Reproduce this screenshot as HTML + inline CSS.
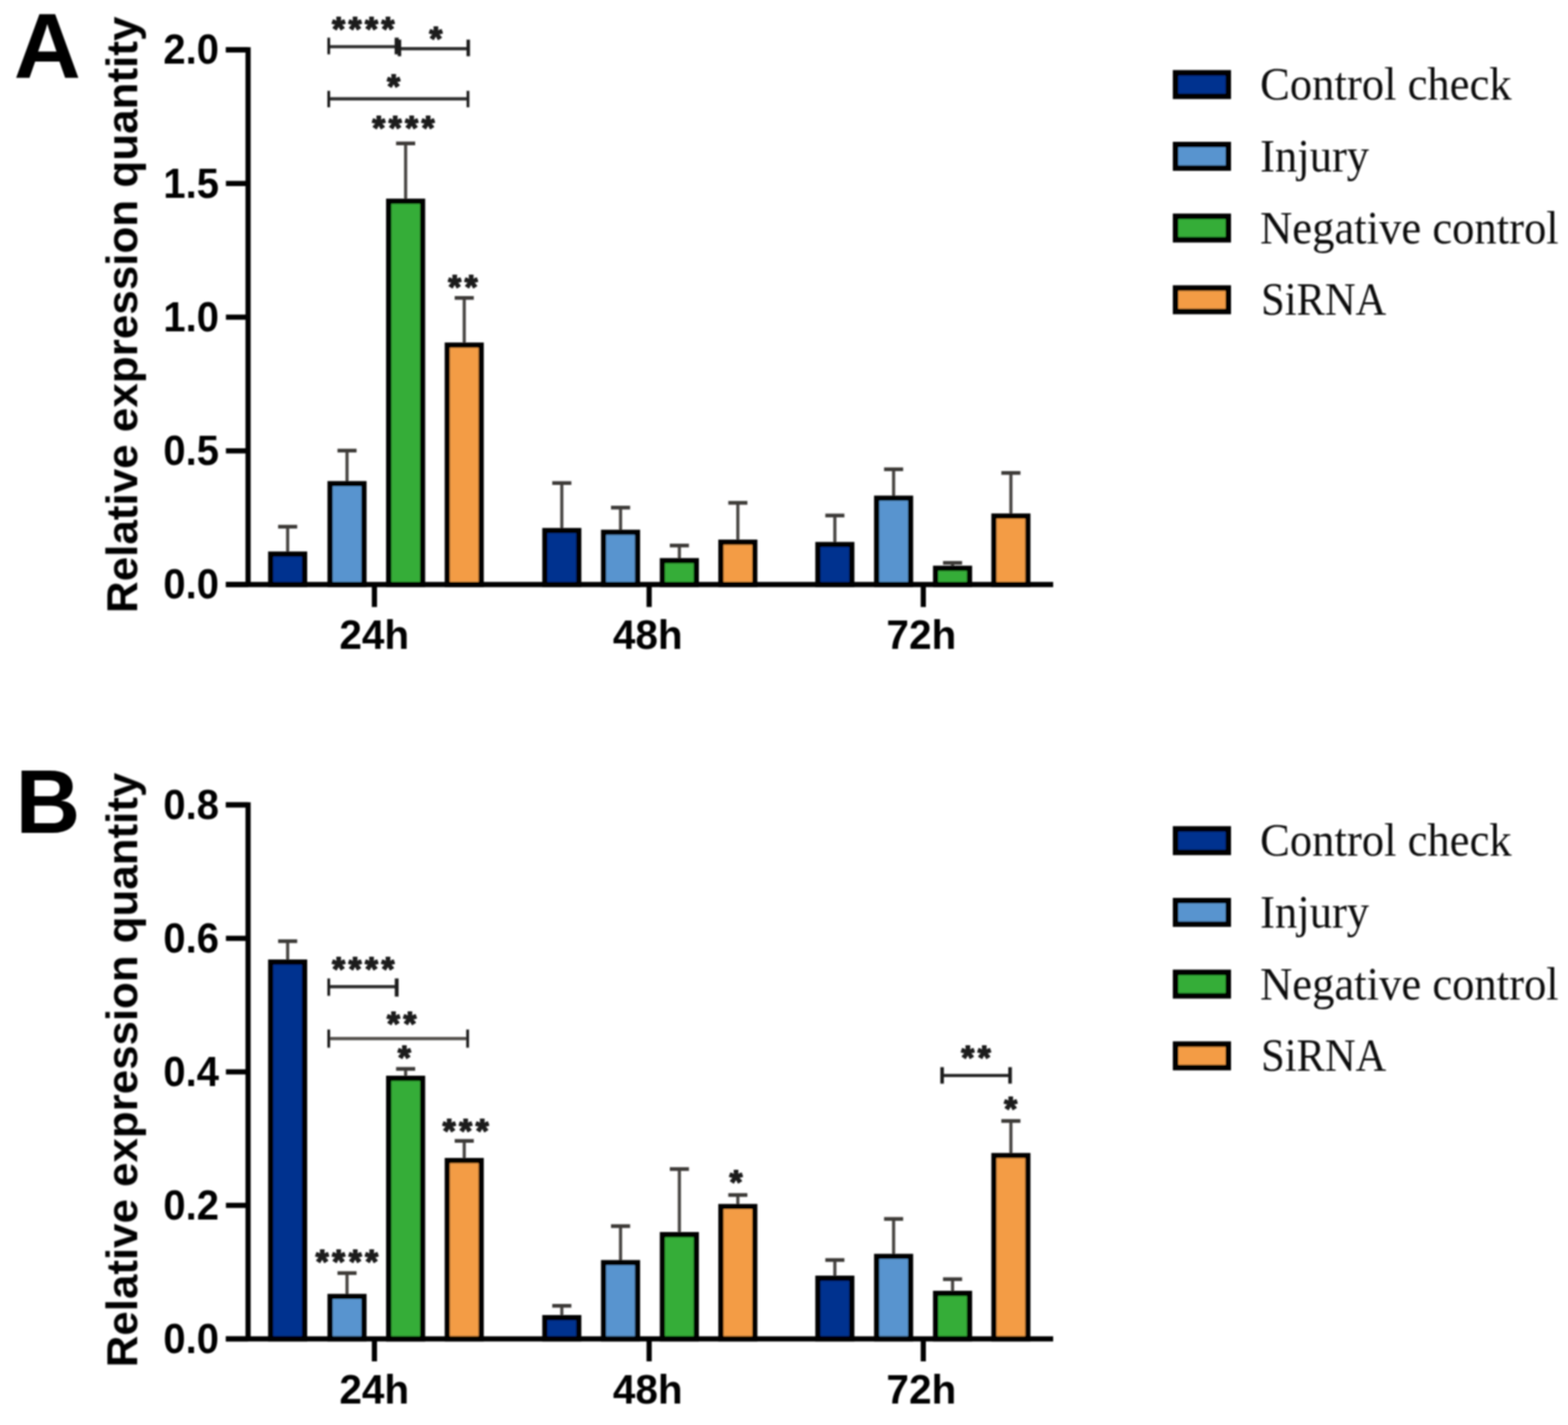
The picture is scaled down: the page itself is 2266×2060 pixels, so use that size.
<!DOCTYPE html>
<html><head><meta charset="utf-8"><title>Relative expression quantity</title>
<style>
html,body{margin:0;padding:0;background:#fff;}
body{width:2266px;height:2060px;overflow:hidden;}
svg{display:block;}
.lab{font-family:"Liberation Sans",Arial,sans-serif;font-weight:bold;fill:#000;}
.leg{font-family:"Liberation Serif","Times New Roman",serif;fill:#111;}
.st{font-family:"Liberation Sans",Arial,sans-serif;font-weight:bold;fill:#1e1e1e;}
</style></head><body>
<svg width="2266" height="2060" viewBox="0 0 2266 2060">
<defs><filter id="soft" x="0" y="0" width="100%" height="100%" filterUnits="userSpaceOnUse"><feGaussianBlur stdDeviation="1.0"/></filter></defs>
<rect width="2266" height="2060" fill="#fff"/>
<g filter="url(#soft)">

<g id="panelA">
<text class="lab" x="20" y="112.5" font-size="134">A</text>
<text class="lab" transform="translate(198.2,886.3) rotate(-90)" font-size="63.6">Relative expression quantity</text>
<line x1="326.5" y1="845.0" x2="358.5" y2="845.0" stroke="#000" stroke-width="7.5"/>
<text class="lab" transform="translate(316.5,865.3) scale(0.955,1)" font-size="60.7" text-anchor="end">0.0</text>
<line x1="326.5" y1="651.8" x2="358.5" y2="651.8" stroke="#000" stroke-width="7.5"/>
<text class="lab" transform="translate(316.5,672.0) scale(0.955,1)" font-size="60.7" text-anchor="end">0.5</text>
<line x1="326.5" y1="458.5" x2="358.5" y2="458.5" stroke="#000" stroke-width="7.5"/>
<text class="lab" transform="translate(316.5,478.8) scale(0.955,1)" font-size="60.7" text-anchor="end">1.0</text>
<line x1="326.5" y1="265.2" x2="358.5" y2="265.2" stroke="#000" stroke-width="7.5"/>
<text class="lab" transform="translate(316.5,285.6) scale(0.955,1)" font-size="60.7" text-anchor="end">1.5</text>
<line x1="326.5" y1="72.0" x2="358.5" y2="72.0" stroke="#000" stroke-width="7.5"/>
<text class="lab" transform="translate(316.5,92.3) scale(0.955,1)" font-size="60.7" text-anchor="end">2.0</text>
<line x1="415.7" y1="761.4" x2="415.7" y2="801.0" stroke="#4a4744" stroke-width="4.6"/>
<line x1="401.9" y1="761.4" x2="429.5" y2="761.4" stroke="#3d3a37" stroke-width="5.4"/>
<rect x="391.2" y="801.0" width="49" height="44.0" fill="#06328f" stroke="#000" stroke-width="7.5"/>
<line x1="501.5" y1="651.4" x2="501.5" y2="699.2" stroke="#4a4744" stroke-width="4.6"/>
<line x1="487.7" y1="651.4" x2="515.3" y2="651.4" stroke="#3d3a37" stroke-width="5.4"/>
<rect x="477.0" y="699.2" width="49" height="145.8" fill="#5994cf" stroke="#000" stroke-width="7.5"/>
<line x1="586.2" y1="207.3" x2="586.2" y2="290.9" stroke="#4a4744" stroke-width="4.6"/>
<line x1="572.4" y1="207.3" x2="600.0" y2="207.3" stroke="#3d3a37" stroke-width="5.4"/>
<rect x="561.7" y="290.9" width="49" height="554.0" fill="#35ad39" stroke="#000" stroke-width="7.5"/>
<line x1="670.9" y1="430.7" x2="670.9" y2="498.9" stroke="#4a4744" stroke-width="4.6"/>
<line x1="657.1" y1="430.7" x2="684.7" y2="430.7" stroke="#3d3a37" stroke-width="5.4"/>
<rect x="646.4" y="498.9" width="49" height="346.1" fill="#f39c45" stroke="#000" stroke-width="7.5"/>
<line x1="811.9" y1="698.3" x2="811.9" y2="767.0" stroke="#4a4744" stroke-width="4.6"/>
<line x1="798.1" y1="698.3" x2="825.7" y2="698.3" stroke="#3d3a37" stroke-width="5.4"/>
<rect x="787.4" y="767.0" width="49" height="78.0" fill="#06328f" stroke="#000" stroke-width="7.5"/>
<line x1="896.8" y1="733.8" x2="896.8" y2="769.5" stroke="#4a4744" stroke-width="4.6"/>
<line x1="883.0" y1="733.8" x2="910.6" y2="733.8" stroke="#3d3a37" stroke-width="5.4"/>
<rect x="872.3" y="769.5" width="49" height="75.5" fill="#5994cf" stroke="#000" stroke-width="7.5"/>
<line x1="981.8" y1="788.6" x2="981.8" y2="810.5" stroke="#4a4744" stroke-width="4.6"/>
<line x1="968.0" y1="788.6" x2="995.6" y2="788.6" stroke="#3d3a37" stroke-width="5.4"/>
<rect x="957.3" y="810.5" width="49" height="34.5" fill="#35ad39" stroke="#000" stroke-width="7.5"/>
<line x1="1066.3" y1="726.9" x2="1066.3" y2="783.8" stroke="#4a4744" stroke-width="4.6"/>
<line x1="1052.5" y1="726.9" x2="1080.1" y2="726.9" stroke="#3d3a37" stroke-width="5.4"/>
<rect x="1041.8" y="783.8" width="49" height="61.2" fill="#f39c45" stroke="#000" stroke-width="7.5"/>
<line x1="1206.5" y1="745.2" x2="1206.5" y2="787.2" stroke="#4a4744" stroke-width="4.6"/>
<line x1="1192.7" y1="745.2" x2="1220.3" y2="745.2" stroke="#3d3a37" stroke-width="5.4"/>
<rect x="1182.0" y="787.2" width="49" height="57.8" fill="#06328f" stroke="#000" stroke-width="7.5"/>
<line x1="1291.4" y1="678.4" x2="1291.4" y2="720.2" stroke="#4a4744" stroke-width="4.6"/>
<line x1="1277.6" y1="678.4" x2="1305.2" y2="678.4" stroke="#3d3a37" stroke-width="5.4"/>
<rect x="1266.9" y="720.2" width="49" height="124.8" fill="#5994cf" stroke="#000" stroke-width="7.5"/>
<line x1="1376.6" y1="813.7" x2="1376.6" y2="821.5" stroke="#4a4744" stroke-width="4.6"/>
<line x1="1362.8" y1="813.7" x2="1390.4" y2="813.7" stroke="#3d3a37" stroke-width="5.4"/>
<rect x="1352.1" y="821.5" width="49" height="23.5" fill="#35ad39" stroke="#000" stroke-width="7.5"/>
<line x1="1460.9" y1="683.7" x2="1460.9" y2="746.0" stroke="#4a4744" stroke-width="4.6"/>
<line x1="1447.1" y1="683.7" x2="1474.7" y2="683.7" stroke="#3d3a37" stroke-width="5.4"/>
<rect x="1436.4" y="746.0" width="49" height="99.0" fill="#f39c45" stroke="#000" stroke-width="7.5"/>
<path d="M326.5,72.0 H358.5 V845.0" fill="none" stroke="#000" stroke-width="7.5" stroke-linejoin="miter"/>
<line x1="326.5" y1="845.0" x2="1522" y2="845.0" stroke="#000" stroke-width="7.5"/>
<line x1="541.1" y1="845.0" x2="541.1" y2="877.5" stroke="#000" stroke-width="7.5"/>
<text class="lab" x="540.8" y="938.1" font-size="58.5" text-anchor="middle">24h</text>
<line x1="938.1" y1="845.0" x2="938.1" y2="877.5" stroke="#000" stroke-width="7.5"/>
<text class="lab" x="936.1" y="938.1" font-size="58.5" text-anchor="middle">48h</text>
<line x1="1334.3" y1="845.0" x2="1334.3" y2="877.5" stroke="#000" stroke-width="7.5"/>
<text class="lab" x="1331.5" y="938.1" font-size="58.5" text-anchor="middle">72h</text>
<rect x="1698.9" y="105.3" width="76.1" height="33.9" fill="#06328f" stroke="#000" stroke-width="8"/>
<text class="leg" transform="translate(1821,144.3) scale(1,1.035)" font-size="64.5">Control check</text>
<rect x="1698.9" y="209.0" width="76.1" height="33.9" fill="#5994cf" stroke="#000" stroke-width="8"/>
<text class="leg" transform="translate(1821,248.0) scale(1,1.035)" font-size="64.5">Injury</text>
<rect x="1698.9" y="312.7" width="76.1" height="33.9" fill="#35ad39" stroke="#000" stroke-width="8"/>
<text class="leg" transform="translate(1821,351.7) scale(1,1.035)" font-size="64.5">Negative control</text>
<rect x="1698.9" y="416.4" width="76.1" height="33.9" fill="#f39c45" stroke="#000" stroke-width="8"/>
<text class="leg" transform="translate(1822.5,455.4) scale(0.952,1.035)" font-size="64.5">SiRNA</text>
</g>
<g id="panelB">
<text class="lab" x="22.5" y="1204.0" font-size="129.5">B</text>
<text class="lab" transform="translate(198.2,1976.6) rotate(-90)" font-size="63.4">Relative expression quantity</text>
<line x1="326.5" y1="1935.5" x2="358.5" y2="1935.5" stroke="#000" stroke-width="7.5"/>
<text class="lab" transform="translate(316.5,1955.8) scale(0.955,1)" font-size="60.7" text-anchor="end">0.0</text>
<line x1="326.5" y1="1742.5" x2="358.5" y2="1742.5" stroke="#000" stroke-width="7.5"/>
<text class="lab" transform="translate(316.5,1762.8) scale(0.955,1)" font-size="60.7" text-anchor="end">0.2</text>
<line x1="326.5" y1="1549.5" x2="358.5" y2="1549.5" stroke="#000" stroke-width="7.5"/>
<text class="lab" transform="translate(316.5,1569.8) scale(0.955,1)" font-size="60.7" text-anchor="end">0.4</text>
<line x1="326.5" y1="1356.5" x2="358.5" y2="1356.5" stroke="#000" stroke-width="7.5"/>
<text class="lab" transform="translate(316.5,1376.8) scale(0.955,1)" font-size="60.7" text-anchor="end">0.6</text>
<line x1="326.5" y1="1163.5" x2="358.5" y2="1163.5" stroke="#000" stroke-width="7.5"/>
<text class="lab" transform="translate(316.5,1183.8) scale(0.955,1)" font-size="60.7" text-anchor="end">0.8</text>
<line x1="415.7" y1="1360.6" x2="415.7" y2="1390.8" stroke="#4a4744" stroke-width="4.6"/>
<line x1="401.9" y1="1360.6" x2="429.5" y2="1360.6" stroke="#3d3a37" stroke-width="5.4"/>
<rect x="391.2" y="1390.8" width="49" height="544.7" fill="#06328f" stroke="#000" stroke-width="7.5"/>
<line x1="501.5" y1="1840.4" x2="501.5" y2="1874.2" stroke="#4a4744" stroke-width="4.6"/>
<line x1="487.7" y1="1840.4" x2="515.3" y2="1840.4" stroke="#3d3a37" stroke-width="5.4"/>
<rect x="477.0" y="1874.2" width="49" height="61.3" fill="#5994cf" stroke="#000" stroke-width="7.5"/>
<line x1="586.2" y1="1545.2" x2="586.2" y2="1558.8" stroke="#4a4744" stroke-width="4.6"/>
<line x1="572.4" y1="1545.2" x2="600.0" y2="1545.2" stroke="#3d3a37" stroke-width="5.4"/>
<rect x="561.7" y="1558.8" width="49" height="376.8" fill="#35ad39" stroke="#000" stroke-width="7.5"/>
<line x1="670.9" y1="1649.3" x2="670.9" y2="1677.7" stroke="#4a4744" stroke-width="4.6"/>
<line x1="657.1" y1="1649.3" x2="684.7" y2="1649.3" stroke="#3d3a37" stroke-width="5.4"/>
<rect x="646.4" y="1677.7" width="49" height="257.8" fill="#f39c45" stroke="#000" stroke-width="7.5"/>
<line x1="811.9" y1="1887.7" x2="811.9" y2="1904.8" stroke="#4a4744" stroke-width="4.6"/>
<line x1="798.1" y1="1887.7" x2="825.7" y2="1887.7" stroke="#3d3a37" stroke-width="5.4"/>
<rect x="787.4" y="1904.8" width="49" height="30.7" fill="#06328f" stroke="#000" stroke-width="7.5"/>
<line x1="896.8" y1="1772.5" x2="896.8" y2="1825.3" stroke="#4a4744" stroke-width="4.6"/>
<line x1="883.0" y1="1772.5" x2="910.6" y2="1772.5" stroke="#3d3a37" stroke-width="5.4"/>
<rect x="872.3" y="1825.3" width="49" height="110.2" fill="#5994cf" stroke="#000" stroke-width="7.5"/>
<line x1="981.8" y1="1690.0" x2="981.8" y2="1784.8" stroke="#4a4744" stroke-width="4.6"/>
<line x1="968.0" y1="1690.0" x2="995.6" y2="1690.0" stroke="#3d3a37" stroke-width="5.4"/>
<rect x="957.3" y="1784.8" width="49" height="150.7" fill="#35ad39" stroke="#000" stroke-width="7.5"/>
<line x1="1066.3" y1="1727.5" x2="1066.3" y2="1744.2" stroke="#4a4744" stroke-width="4.6"/>
<line x1="1052.5" y1="1727.5" x2="1080.1" y2="1727.5" stroke="#3d3a37" stroke-width="5.4"/>
<rect x="1041.8" y="1744.2" width="49" height="191.3" fill="#f39c45" stroke="#000" stroke-width="7.5"/>
<line x1="1206.5" y1="1821.5" x2="1206.5" y2="1847.8" stroke="#4a4744" stroke-width="4.6"/>
<line x1="1192.7" y1="1821.5" x2="1220.3" y2="1821.5" stroke="#3d3a37" stroke-width="5.4"/>
<rect x="1182.0" y="1847.8" width="49" height="87.7" fill="#06328f" stroke="#000" stroke-width="7.5"/>
<line x1="1291.4" y1="1762.1" x2="1291.4" y2="1816.3" stroke="#4a4744" stroke-width="4.6"/>
<line x1="1277.6" y1="1762.1" x2="1305.2" y2="1762.1" stroke="#3d3a37" stroke-width="5.4"/>
<rect x="1266.9" y="1816.3" width="49" height="119.2" fill="#5994cf" stroke="#000" stroke-width="7.5"/>
<line x1="1376.6" y1="1849.2" x2="1376.6" y2="1869.7" stroke="#4a4744" stroke-width="4.6"/>
<line x1="1362.8" y1="1849.2" x2="1390.4" y2="1849.2" stroke="#3d3a37" stroke-width="5.4"/>
<rect x="1352.1" y="1869.7" width="49" height="65.8" fill="#35ad39" stroke="#000" stroke-width="7.5"/>
<line x1="1460.9" y1="1620.5" x2="1460.9" y2="1670.5" stroke="#4a4744" stroke-width="4.6"/>
<line x1="1447.1" y1="1620.5" x2="1474.7" y2="1620.5" stroke="#3d3a37" stroke-width="5.4"/>
<rect x="1436.4" y="1670.5" width="49" height="265.0" fill="#f39c45" stroke="#000" stroke-width="7.5"/>
<path d="M326.5,1163.5 H358.5 V1935.5" fill="none" stroke="#000" stroke-width="7.5" stroke-linejoin="miter"/>
<line x1="326.5" y1="1935.5" x2="1522" y2="1935.5" stroke="#000" stroke-width="7.5"/>
<line x1="541.1" y1="1935.5" x2="541.1" y2="1968.0" stroke="#000" stroke-width="7.5"/>
<text class="lab" x="540.8" y="2028.6" font-size="58.5" text-anchor="middle">24h</text>
<line x1="938.1" y1="1935.5" x2="938.1" y2="1968.0" stroke="#000" stroke-width="7.5"/>
<text class="lab" x="936.1" y="2028.6" font-size="58.5" text-anchor="middle">48h</text>
<line x1="1334.3" y1="1935.5" x2="1334.3" y2="1968.0" stroke="#000" stroke-width="7.5"/>
<text class="lab" x="1331.5" y="2028.6" font-size="58.5" text-anchor="middle">72h</text>
<rect x="1698.9" y="1198.3" width="76.1" height="33.9" fill="#06328f" stroke="#000" stroke-width="8"/>
<text class="leg" transform="translate(1821,1237.3) scale(1,1.035)" font-size="64.5">Control check</text>
<rect x="1698.9" y="1302.0" width="76.1" height="33.9" fill="#5994cf" stroke="#000" stroke-width="8"/>
<text class="leg" transform="translate(1821,1341.0) scale(1,1.035)" font-size="64.5">Injury</text>
<rect x="1698.9" y="1405.7" width="76.1" height="33.9" fill="#35ad39" stroke="#000" stroke-width="8"/>
<text class="leg" transform="translate(1821,1444.7) scale(1,1.035)" font-size="64.5">Negative control</text>
<rect x="1698.9" y="1509.4" width="76.1" height="33.9" fill="#f39c45" stroke="#000" stroke-width="8"/>
<text class="leg" transform="translate(1822.5,1548.4) scale(0.952,1.035)" font-size="64.5">SiRNA</text>
</g>
<g id="annA">
<text class="st" x="527.5" y="58.4" font-size="48" text-anchor="middle" letter-spacing="5.1" stroke="#1e1e1e" stroke-width="2.0" stroke-linejoin="round">****</text>
<text class="st" x="632.5" y="72.1" font-size="48" text-anchor="middle" letter-spacing="5.1" stroke="#1e1e1e" stroke-width="2.0" stroke-linejoin="round">*</text>
<line x1="475.1" y1="67.5" x2="573.3" y2="67.5" stroke="#2e2e2e" stroke-width="4.6"/><line x1="475.1" y1="54.5" x2="475.1" y2="78.5" stroke="#1a1a1a" stroke-width="4.0"/><line x1="573.3" y1="54.5" x2="573.3" y2="78.5" stroke="#1a1a1a" stroke-width="6"/>
<line x1="577.3" y1="70.4" x2="676.7" y2="70.4" stroke="#2e2e2e" stroke-width="4.6"/><line x1="577.3" y1="57.3" x2="577.3" y2="81.3" stroke="#1a1a1a" stroke-width="5"/><line x1="676.7" y1="57.3" x2="676.7" y2="81.3" stroke="#1a1a1a" stroke-width="5"/>
<text class="st" x="571.5" y="140.5" font-size="48" text-anchor="middle" letter-spacing="5.1" stroke="#1e1e1e" stroke-width="2.0" stroke-linejoin="round">*</text>
<line x1="475.1" y1="142.9" x2="676.3" y2="142.9" stroke="#2e2e2e" stroke-width="4.6"/><line x1="475.1" y1="131.3" x2="475.1" y2="155.1" stroke="#1a1a1a" stroke-width="4.0"/><line x1="676.3" y1="131.3" x2="676.3" y2="155.1" stroke="#1a1a1a" stroke-width="4.0"/>
<text class="st" x="585.5" y="200.6" font-size="48" text-anchor="middle" letter-spacing="5.1" stroke="#1e1e1e" stroke-width="2.0" stroke-linejoin="round">****</text>
<text class="st" x="671.5" y="431.1" font-size="48" text-anchor="middle" letter-spacing="5.1" stroke="#1e1e1e" stroke-width="2.0" stroke-linejoin="round">**</text>
</g>
<g id="annB">
<text class="st" x="527.5" y="1416.9" font-size="48" text-anchor="middle" letter-spacing="5.1" stroke="#1e1e1e" stroke-width="2.0" stroke-linejoin="round">****</text>
<line x1="475.1" y1="1426.4" x2="573.3" y2="1426.4" stroke="#2e2e2e" stroke-width="4.6"/><line x1="475.1" y1="1414.5" x2="475.1" y2="1439.5" stroke="#1a1a1a" stroke-width="4.0"/><line x1="573.3" y1="1414.5" x2="573.3" y2="1440.7" stroke="#1a1a1a" stroke-width="5.5"/>
<text class="st" x="583.0" y="1495.9" font-size="48" text-anchor="middle" letter-spacing="5.1" stroke="#1e1e1e" stroke-width="2.0" stroke-linejoin="round">**</text>
<line x1="475.1" y1="1501.4" x2="675.8" y2="1501.4" stroke="#575350" stroke-width="4.6"/><line x1="475.1" y1="1488.3" x2="475.1" y2="1514.5" stroke="#1a1a1a" stroke-width="4.0"/><line x1="675.8" y1="1488.3" x2="675.8" y2="1514.5" stroke="#1a1a1a" stroke-width="4.0"/>
<text class="st" x="586.8" y="1545.0" font-size="48" text-anchor="middle" letter-spacing="5.1" stroke="#1e1e1e" stroke-width="2.0" stroke-linejoin="round">*</text>
<text class="st" x="675.5" y="1651.0" font-size="48" text-anchor="middle" letter-spacing="5.1" stroke="#1e1e1e" stroke-width="2.0" stroke-linejoin="round">***</text>
<text class="st" x="503.9" y="1840.2" font-size="48" text-anchor="middle" letter-spacing="5.1" stroke="#1e1e1e" stroke-width="2.0" stroke-linejoin="round">****</text>
<text class="st" x="1066.1" y="1725.4" font-size="48" text-anchor="middle" letter-spacing="5.1" stroke="#1e1e1e" stroke-width="2.0" stroke-linejoin="round">*</text>
<text class="st" x="1463.2" y="1619.2" font-size="48" text-anchor="middle" letter-spacing="5.1" stroke="#1e1e1e" stroke-width="2.0" stroke-linejoin="round">*</text>
<line x1="1361.5" y1="1554.8" x2="1459.7" y2="1554.8" stroke="#222" stroke-width="4.6"/><line x1="1361.5" y1="1542.7" x2="1361.5" y2="1566.5" stroke="#1a1a1a" stroke-width="5.2"/><line x1="1459.7" y1="1542.7" x2="1459.7" y2="1566.5" stroke="#1a1a1a" stroke-width="5.2"/>
<text class="st" x="1413.1" y="1545.4" font-size="48" text-anchor="middle" letter-spacing="5.1" stroke="#1e1e1e" stroke-width="2.0" stroke-linejoin="round">**</text>
</g>
</g>
</svg>
</body></html>
